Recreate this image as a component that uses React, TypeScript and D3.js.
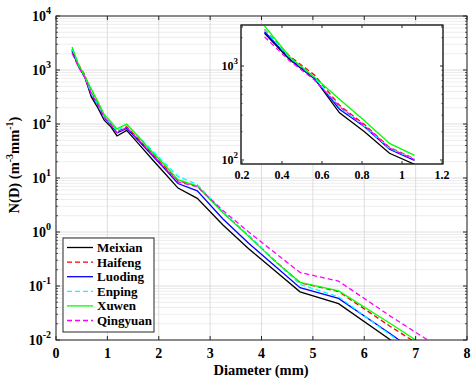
import React from "react";
import * as d3 from "d3";

const diameters = [0.3125, 0.4375, 0.5625, 0.6875, 0.8125, 0.9375, 1.0625, 1.1875, 1.375, 1.625, 1.875, 2.125, 2.375, 2.75, 3.25, 3.75, 4.25, 4.75, 5.5, 6.5, 7.5];
const meixian = [2228, 1175, 733, 318, 200, 118, 90, 60, 76, 41, 22, 12, 6.5, 4.2, 1.35, 0.49, 0.195, 0.078, 0.047, 0.0102, 0.0022];
const haifeng = [2455, 1276, 802, 382, 238, 136, 103, 72, 89, 50, 28, 15.8, 8.9, 7.1, 2.3, 0.85, 0.3, 0.115, 0.079, 0.018, 0.0045];
const luoding = [2317, 1202, 733, 347, 226, 130, 99, 68, 83, 47, 26, 14.5, 7.9, 5.8, 1.74, 0.62, 0.24, 0.093, 0.059, 0.0132, 0.0028];
const enping = [2455, 1230, 753, 363, 229, 133, 102, 74, 98, 56, 32, 18.6, 10.7, 7.6, 2.34, 0.87, 0.3, 0.107, 0.063, 0.0126, 0.0028];
const xuwen = [2667, 1256, 759, 442, 262, 150, 112, 81, 100, 55, 30, 17, 9.3, 7.1, 2.28, 0.83, 0.295, 0.117, 0.081, 0.0204, 0.0049];
const qingyuan = [2042, 1138, 710, 369, 232, 134, 101, 69, 87, 49, 27.5, 15.1, 8.5, 6.9, 2.5, 1.0, 0.42, 0.178, 0.123, 0.028, 0.0069];

const seriesNames = ["Meixian", "Haifeng", "Luoding", "Enping", "Xuwen", "Qingyuan"];
const seriesValues = [meixian, haifeng, luoding, enping, xuwen, qingyuan];
const seriesColors = ["#000000", "#ff0000", "#0000ff", "#00ffff", "#00ff00", "#ff00ff"];
const seriesDash = [null, "5,3", null, "5,3", null, "5,3"];

const xTicks = [0, 1, 2, 3, 4, 5, 6, 7, 8];
const yExps = [-2, -1, 0, 1, 2, 3, 4];
const insetXTicks = [0.2, 0.4, 0.6, 0.8, 1.0, 1.2];
const insetYExps = [2, 3];
const insetMaxD = 1.07;

const FONT = "'Liberation Serif', 'Times New Roman', 'DejaVu Serif', serif";
const tstyle = { fontFamily: FONT, fontWeight: 700 } as React.CSSProperties;

export default function App() {
  const L = 56, R = 467, T = 16, B = 340;
  const x = d3.scaleLinear().domain([0, 8]).range([L, R]);
  const y = d3.scaleLog().domain([1e-2, 1e4]).range([B, T]);

  const iL = 241, iR = 443, iT = 25, iB = 164;
  const ix = d3.scaleLinear().domain([0.2, 1.2]).range([242, 442]);
  const pxPerDec = 94;
  const iyTopVal = Math.pow(10, 3 + (66 - iT) / pxPerDec);
  const iyBotVal = Math.pow(10, 3 - (iB - 66) / pxPerDec);
  const iy = d3.scaleLog().domain([iyBotVal, iyTopVal]).range([iB, iT]);

  const minorY: number[] = [];
  for (let e = -2; e < 4; e++) for (let m = 2; m <= 9; m++) minorY.push(m * Math.pow(10, e));

  const insetMinorY: number[] = [];
  for (let e = 1; e < 4; e++) for (let m = 2; m <= 9; m++) {
    const v = m * Math.pow(10, e);
    if (v >= iyBotVal && v <= iyTopVal) insetMinorY.push(v);
  }

  const line = d3.line<[number, number]>().x((d) => x(d[0])).y((d) => y(d[1]));
  const iline = d3.line<[number, number]>().x((d) => ix(d[0])).y((d) => iy(d[1]));

  const axisColor = "#262626";
  const tk = 4;

  return (
    <svg width={474} height={379} style={{ display: "block", position: "absolute", left: 0, top: 0, background: "#fff", fontFamily: FONT }}>
      <defs>
        <clipPath id="mainclip"><rect x={L} y={T} width={R - L} height={B - T} /></clipPath>
        <clipPath id="insetclip"><rect x={iL} y={iT} width={iR - iL} height={iB - iT} /></clipPath>
      </defs>
      <rect x={0} y={0} width={474} height={379} fill="#fff" />
      {minorY.map((v, i) => (
        <line key={"mg" + i} x1={L} x2={R} y1={y(v)} y2={y(v)} stroke="#e8e8e8" strokeWidth={0.8} />
      ))}
      {yExps.map((e) => (
        <line key={"yg" + e} x1={L} x2={R} y1={y(Math.pow(10, e))} y2={y(Math.pow(10, e))} stroke="#d6d6d6" strokeWidth={0.8} />
      ))}
      {xTicks.map((t) => (
        <line key={"xg" + t} x1={x(t)} x2={x(t)} y1={T} y2={B} stroke="#d6d6d6" strokeWidth={0.8} />
      ))}
      <g clipPath="url(#mainclip)">
        {seriesValues.map((vals, si) => (
          <path key={"s" + si} d={line(diameters.map((d, i) => [d, vals[i]]))!} fill="none" stroke={seriesColors[si]}
            strokeWidth={1.3} strokeDasharray={seriesDash[si] || undefined} />
        ))}
      </g>
      <rect x={L} y={T} width={R - L} height={B - T} fill="none" stroke={axisColor} strokeWidth={1} />
      {xTicks.map((t) => (
        <g key={"xt" + t}>
          <line x1={x(t)} x2={x(t)} y1={B} y2={B - tk} stroke={axisColor} />
          <line x1={x(t)} x2={x(t)} y1={T} y2={T + tk} stroke={axisColor} />
          <text x={x(t)} y={358} textAnchor="middle" fontSize={14} style={tstyle} fill="#000">{t}</text>
        </g>
      ))}
      {yExps.map((e) => (
        <g key={"yt" + e}>
          <line x1={L} x2={L + tk} y1={y(Math.pow(10, e))} y2={y(Math.pow(10, e))} stroke={axisColor} />
          <line x1={R} x2={R - tk} y1={y(Math.pow(10, e))} y2={y(Math.pow(10, e))} stroke={axisColor} />
          <text x={51} y={y(Math.pow(10, e)) + 5} textAnchor="end" fontSize={14} style={tstyle} fill="#000">
            10<tspan dy={-7} fontSize={10}>{e}</tspan>
          </text>
        </g>
      ))}
      {minorY.map((v, i) => (
        <g key={"ymt" + i}>
          <line x1={L} x2={L + 2} y1={y(v)} y2={y(v)} stroke={axisColor} strokeWidth={0.8} />
          <line x1={R} x2={R - 2} y1={y(v)} y2={y(v)} stroke={axisColor} strokeWidth={0.8} />
        </g>
      ))}
      <text x={261} y={375} textAnchor="middle" fontSize={14.5} style={tstyle} fill="#000">Diameter (mm)</text>
      <text transform="translate(19,165) rotate(-90)" textAnchor="middle" fontSize={14.5} style={tstyle} fill="#000">
        N(D) (m<tspan dy={-6} fontSize={10}>-3</tspan><tspan dy={6}>mm</tspan><tspan dy={-6} fontSize={10}>-1</tspan><tspan dy={6}>)</tspan>
      </text>
      <g>
        <rect x={63} y={238} width={91} height={94} fill="#fff" stroke={axisColor} strokeWidth={1} />
        {seriesNames.map((n, i) => {
          const ly = 247.5 + i * 14.6;
          return (
            <g key={"lg" + i}>
              <line x1={67} x2={93} y1={ly} y2={ly} stroke={seriesColors[i]} strokeWidth={1.3} strokeDasharray={seriesDash[i] || undefined} />
              <text x={97} y={ly + 4.5} fontSize={13} style={tstyle} fill="#000">{n}</text>
            </g>
          );
        })}
      </g>
      <rect x={iL} y={iT} width={iR - iL} height={iB - iT} fill="#fff" stroke={axisColor} strokeWidth={1} />
      <g clipPath="url(#insetclip)">
        {seriesValues.map((vals, si) => {
          const pts = diameters.map((d, i) => [d, vals[i]] as [number, number]).filter((p) => p[0] <= insetMaxD);
          return (
            <path key={"is" + si} d={iline(pts)!} fill="none" stroke={seriesColors[si]} strokeWidth={1.3}
              strokeDasharray={seriesDash[si] || undefined} />
          );
        })}
      </g>
      <rect x={iL} y={iT} width={iR - iL} height={iB - iT} fill="none" stroke={axisColor} strokeWidth={1} />
      {insetXTicks.map((t) => (
        <g key={"ixt" + t}>
          <line x1={ix(t)} x2={ix(t)} y1={iB} y2={iB - 3} stroke={axisColor} />
          <line x1={ix(t)} x2={ix(t)} y1={iT} y2={iT + 3} stroke={axisColor} />
          <text x={ix(t)} y={179} textAnchor="middle" fontSize={12} style={tstyle} fill="#000">{String(t)}</text>
        </g>
      ))}
      {insetYExps.map((e) => (
        <g key={"iyt" + e}>
          <line x1={iL} x2={iL + 3} y1={iy(Math.pow(10, e))} y2={iy(Math.pow(10, e))} stroke={axisColor} />
          <line x1={iR} x2={iR - 3} y1={iy(Math.pow(10, e))} y2={iy(Math.pow(10, e))} stroke={axisColor} />
          <text x={238} y={iy(Math.pow(10, e)) + 4} textAnchor="end" fontSize={12} style={tstyle} fill="#000">
            10<tspan dy={-6} fontSize={9}>{e}</tspan>
          </text>
        </g>
      ))}
      {insetMinorY.map((v, i) => (
        <g key={"iym" + i}>
          <line x1={iL} x2={iL + 1.5} y1={iy(v)} y2={iy(v)} stroke={axisColor} strokeWidth={0.8} />
          <line x1={iR} x2={iR - 1.5} y1={iy(v)} y2={iy(v)} stroke={axisColor} strokeWidth={0.8} />
        </g>
      ))}
    </svg>
  );
}
